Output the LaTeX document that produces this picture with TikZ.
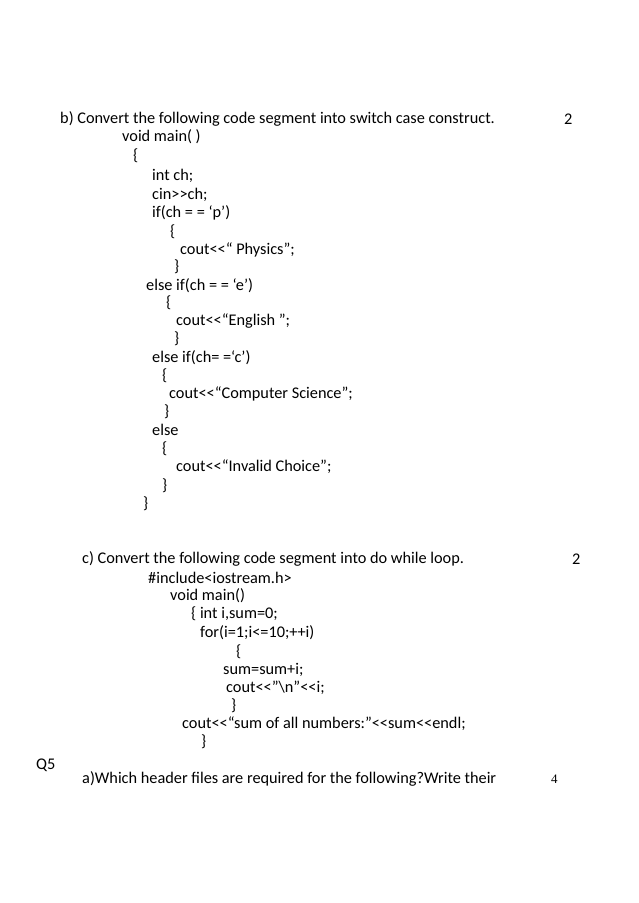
\documentclass[tikz,border=0pt]{standalone}
\usepackage{fontspec}
\setmainfont{Carlito}
\newfontfamily\serifnum{Liberation Serif}
\begin{document}
\begin{tikzpicture}[x=1pt,y=-1pt,t/.style={anchor=west,inner sep=0pt,font=\fontsize{16.3}{18}\selectfont}]
\fill[white] (0,0) rectangle (638,903);
\useasboundingbox (0,0) rectangle (638,903);
\node[t] (l1) at (60,119) {b) Convert the following code segment into switch case construct.};
\node[t] (m1) at (564,119) {2};
\node[t] (l2) at (122,137) {void main( )};
\node[t] (l3) at (133,156) {\{};
\node[t] (l4) at (152,176) {int ch;};
\node[t] (l5) at (152,195) {cin>{}>ch;};
\node[t] (l6) at (152,213) {if(ch = = ‘p’)};
\node[t] (l7) at (170,232) {\{};
\node[t] (l8) at (180,250) {cout<{}<“ Physics”;};
\node[t] (l9) at (174,267) {\}};
\node[t] (l10) at (146,286) {else if(ch = = ‘e’)};
\node[t] (l11) at (166,303) {\{};
\node[t] (l12) at (176,321) {cout<{}<“English ”;};
\node[t] (l13) at (174,339) {\}};
\node[t] (l14) at (152,358) {else if(ch= =‘c’)};
\node[t] (l15) at (162,376) {\{};
\node[t] (l16) at (169,394) {cout<{}<“Computer Science”;};
\node[t] (l17) at (164,412) {\}};
\node[t] (l18) at (152,430) {else};
\node[t] (l19) at (162,449) {\{};
\node[t] (l20) at (176,467) {cout<{}<“Invalid Choice”;};
\node[t] (l21) at (162,486) {\}};
\node[t] (l22) at (143,504) {\}};
\node[t] (c1) at (82,559) {c) Convert the following code segment into do while loop.};
\node[t] (m2) at (572,559) {2};
\node[t] (c2) at (148,578) {\#include<iostream.h>};
\node[t] (c3) at (170,596) {void main()};
\node[t] (c4) at (191,614) {\{ int i,sum=0;};
\node[t] (c5) at (200,633) {for(i=1;i<=10;++i)};
\node[t] (c6) at (236,652) {\{};
\node[t] (c7) at (223,670) {sum=sum+i;};
\node[t] (c8) at (226,688) {cout<{}<”\textbackslash n”<{}<i;};
\node[t] (c9) at (231,706) {\}};
\node[t] (c10) at (182,724) {cout<{}<“sum of all numbers:”<{}<sum<{}<endl;};
\node[t] (c11) at (201,742) {\}};
\node[t] (q5) at (36,765) {Q5};
\node[t] (a1) at (82,779) {a)Which header files are required for the following?Write their};
\node[t,font=\serifnum\fontsize{13}{15}\selectfont] (m3) at (551,779) {4};
\end{tikzpicture}
\end{document}
